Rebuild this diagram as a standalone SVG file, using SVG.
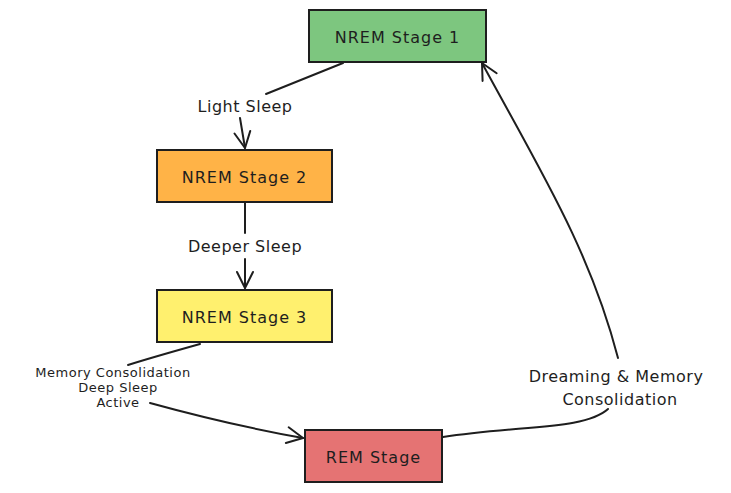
<svg xmlns="http://www.w3.org/2000/svg" width="731" height="493" viewBox="0 0 731 493">
<style>
.box{stroke:#1e1e1e;stroke-width:2}
.nt{font-family:"DejaVu Sans",sans-serif;font-size:16px;letter-spacing:1px;fill:#1e1e1e;text-anchor:middle;dominant-baseline:central}
.lt{font-family:"DejaVu Sans",sans-serif;font-size:16px;letter-spacing:0.5px;fill:#1e1e1e;text-anchor:middle;dominant-baseline:central}
.st{font-family:"DejaVu Sans",sans-serif;font-size:13px;letter-spacing:0.5px;fill:#1e1e1e;text-anchor:middle;dominant-baseline:central}
.c{fill:none;stroke:#1e1e1e;stroke-width:2;stroke-linecap:round}
</style>
<defs>
<marker id="ah" viewBox="0 0 20 20" refX="18" refY="10" markerWidth="20" markerHeight="20" markerUnits="userSpaceOnUse" orient="auto">
<path d="M2,2 L18,10 L2,18" fill="none" stroke="#1e1e1e" stroke-width="2" stroke-linecap="round" stroke-linejoin="round"/>
</marker>
</defs>
<rect width="731" height="493" fill="#ffffff"/>
<g id="connectors">
<path class="c" d="M343,63 L266,94"/>
<path class="c" d="M240,118 L245,148" marker-end="url(#ah)"/>
<path class="c" d="M245,203 L245,233"/>
<path class="c" d="M245,259 L245,288" marker-end="url(#ah)"/>
<path class="c" d="M200,344 Q150,358 128,365" stroke-width="3"/>
<path class="c" d="M150,403 Q230,425 303,438" stroke-width="3" marker-end="url(#ah)"/>
<path class="c" d="M443,437 C520,425 585,430 608,409"/>
<path class="c" d="M618,358 C590,250 540,170 482,63" marker-end="url(#ah)"/>
</g>
<g id="labels">
<text class="lt" x="245" y="106">Light Sleep</text>
<text class="lt" x="245" y="246">Deeper Sleep</text>
<text class="st" x="113" y="372">Memory Consolidation</text>
<text class="st" x="118" y="387">Deep Sleep</text>
<text class="st" x="118" y="402">Active</text>
<text class="lt" x="616" y="376">Dreaming &amp; Memory</text>
<text class="lt" x="620" y="399">Consolidation</text>
</g>
<g id="n1"><rect class="box" x="309" y="10" width="177" height="52" fill="#7dc67f"/><text class="nt" x="397.5" y="37">NREM Stage 1</text></g>
<g id="n2"><rect class="box" x="157" y="150" width="175" height="52" fill="#ffb347"/><text class="nt" x="244.5" y="177">NREM Stage 2</text></g>
<g id="n3"><rect class="box" x="157" y="290" width="175" height="52" fill="#fff06e"/><text class="nt" x="244.5" y="317">NREM Stage 3</text></g>
<g id="rem"><rect class="box" x="305" y="430" width="137" height="52" fill="#e57373"/><text class="nt" x="373.5" y="457">REM Stage</text></g>
</svg>
